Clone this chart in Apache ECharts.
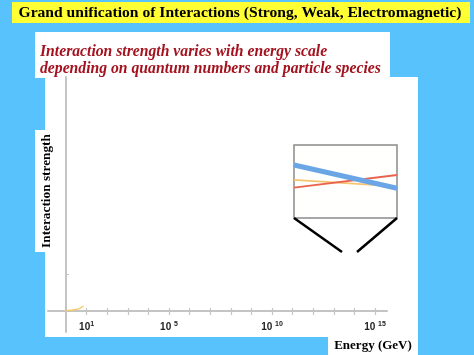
<!DOCTYPE html>
<html>
<head>
<meta charset="utf-8">
<script src="https://cdn.jsdelivr.net/npm/echarts@6/dist/echarts.min.js"></script>
<style>
html,body{margin:0;padding:0;background:#57C2FB;}
#chart{width:474px;height:355px;}
</style>
</head>
<body>
<div id="chart"></div>
<script>
// ---- text ----
const titleText = 'Grand unification of Interactions (Strong, Weak, Electromagnetic)';
const subtitleLines = ['Interaction strength varies with energy scale',
                       'depending on quantum numbers and particle species'];
const yAxisTitle = 'Interaction strength';
const xAxisTitle = 'Energy (GeV)';

// ---- main axis ticks (log10 of energy in GeV) ----
const xTickExponents = [1,2,3,4,5,6,7,8,9,10,11,12,13,14,15];
const xLabelExponents = [1,5,10,15];
const yTickValues = [3.7];

// ---- main chart curve (log10 E, strength) ----
const mainCurveX = [0, 0.5, 0.85];
const mainCurveY = [0.05, 0.15, 0.5];

// ---- inset (zoom on unification region) ----
const insetEnergy = [13, 16];
const strongInset = [0.726, 0.407];
const weakInset = [0.415, 0.589];
const emInset = [0.521, 0.432];

const zip = (xs, ys) => xs.map((x, i) => [x, ys[i]]);

const chart = echarts.init(document.getElementById('chart'), null, {renderer: 'canvas'});

const axisGray = '#C4C4C4';
const serif = '"Liberation Serif", "Times New Roman", serif';
const sans = '"Liberation Sans", Arial, sans-serif';

const option = {
  backgroundColor: '#57C2FB',
  animation: false,
  graphic: [
    {type: 'rect', shape: {x: 12, y: 2, width: 458, height: 21}, style: {fill: '#FFFF33'}, z: -10},
    {type: 'text', x: 240, y: 13, style: {text: titleText, font: 'bold 15.6px ' + serif, fill: '#000', textAlign: 'center', textVerticalAlign: 'middle'}, z: 1},
    {type: 'rect', shape: {x: 35, y: 32, width: 355, height: 46}, style: {fill: '#FFFFFF'}, z: -10},
    {type: 'rect', shape: {x: 45, y: 77, width: 373, height: 260}, style: {fill: '#FFFFFF'}, z: -10},
    {type: 'rect', shape: {x: 35, y: 130, width: 15, height: 122}, style: {fill: '#FFFFFF'}, z: -10},
    {type: 'rect', shape: {x: 328, y: 335, width: 90, height: 20}, style: {fill: '#FFFFFF'}, z: -10},
    {type: 'text', x: 40, y: 52, style: {text: subtitleLines[0], font: 'italic bold 15.7px ' + serif, fill: '#A3121E', textAlign: 'left', textVerticalAlign: 'middle'}, z: 1},
    {type: 'text', x: 40, y: 69, style: {text: subtitleLines[1], font: 'italic bold 15.7px ' + serif, fill: '#A3121E', textAlign: 'left', textVerticalAlign: 'middle'}, z: 1},
    {type: 'text', x: 47, y: 191, rotation: Math.PI / 2, style: {text: yAxisTitle, font: 'bold 13.3px ' + serif, fill: '#000', textAlign: 'center', textVerticalAlign: 'middle'}, z: 1},
    {type: 'text', x: 373, y: 346, style: {text: xAxisTitle, font: 'bold 13px ' + serif, fill: '#000', textAlign: 'center', textVerticalAlign: 'middle'}, z: 1},
    {type: 'line', shape: {x1: 294, y1: 218, x2: 342, y2: 252}, style: {stroke: '#000', lineWidth: 2.5}, z: 5},
    {type: 'line', shape: {x1: 397, y1: 218, x2: 357, y2: 252}, style: {stroke: '#000', lineWidth: 2.5}, z: 5}
  ],
  grid: [
    // axis-line frame (lines cross at the origin and overshoot)
    {left: 48, top: 77, width: 339, height: 255},
    // plotting area with ticks and labels
    {left: 66, top: 77, width: 321, height: 234},
    // inset
    {left: 294, top: 145, width: 103, height: 73, show: true, z: 1, borderColor: '#8A8A8A', borderWidth: 1.5, backgroundColor: '#FFFFFD'}
  ],
  xAxis: [
    {
      gridIndex: 0, type: 'value', min: -0.874, max: 15.58,
      axisLine: {onZero: true, lineStyle: {color: axisGray, width: 2}},
      axisTick: {show: false}, axisLabel: {show: false}, splitLine: {show: false}
    },
    {
      gridIndex: 1, type: 'value', min: 0, max: 15.58, position: 'bottom',
      axisLine: {show: false, onZero: false},
      axisTick: {show: true, customValues: xTickExponents, length: 4, lineStyle: {color: axisGray, width: 1.2}},
      splitLine: {show: false},
      axisLabel: {
        customValues: xLabelExponents, margin: 10,
        formatter: v => (v === 1 ? '{b|10}{s|' + v + '}' : '{b|10 }{s|' + v + '}'),
        rich: {
          b: {fontFamily: sans, fontWeight: 'bold', fontSize: 10, color: '#222'},
          s: {fontFamily: sans, fontWeight: 'bold', fontSize: 7, color: '#222', padding: [0, 0, 5, 0]}
        }
      }
    },
    {
      gridIndex: 1, type: 'value', min: 0, max: 15.58, position: 'bottom',
      axisLine: {show: false, onZero: false},
      axisTick: {show: true, inside: true, customValues: xTickExponents, length: 3, lineStyle: {color: axisGray, width: 1.2}},
      axisLabel: {show: false}, splitLine: {show: false}
    },
    {gridIndex: 2, type: 'value', min: insetEnergy[0], max: insetEnergy[1], show: false}
  ],
  yAxis: [
    {
      gridIndex: 0, type: 'value', min: -2.1, max: 23.4,
      axisLine: {show: true, onZero: true, lineStyle: {color: axisGray, width: 2}},
      axisTick: {show: false}, axisLabel: {show: false}, splitLine: {show: false}
    },
    {
      gridIndex: 1, type: 'value', min: 0, max: 23.4,
      axisLine: {show: false, onZero: false},
      axisTick: {show: true, inside: true, customValues: yTickValues, length: 3, lineStyle: {color: axisGray}},
      axisLabel: {show: false}, splitLine: {show: false}
    },
    {gridIndex: 2, type: 'value', min: 0, max: 1, show: false}
  ],
  series: [
    {type: 'line', xAxisIndex: 1, yAxisIndex: 1, data: zip(mainCurveX, mainCurveY), smooth: true, clip: false, symbol: 'none', lineStyle: {color: '#F4CB6A', width: 1.5}},
    {type: 'line', xAxisIndex: 3, yAxisIndex: 2, data: zip(insetEnergy, emInset), symbol: 'none', lineStyle: {color: '#F6C46E', width: 1.8}, z: 2},
    {type: 'line', xAxisIndex: 3, yAxisIndex: 2, data: zip(insetEnergy, weakInset), symbol: 'none', lineStyle: {color: '#E9634F', width: 1.8}, z: 3},
    {type: 'line', xAxisIndex: 3, yAxisIndex: 2, data: zip(insetEnergy, strongInset), symbol: 'none', lineStyle: {color: '#6AA6E6', width: 5}, z: 4}
  ]
};
chart.setOption(option);
</script>
</body>
</html>
